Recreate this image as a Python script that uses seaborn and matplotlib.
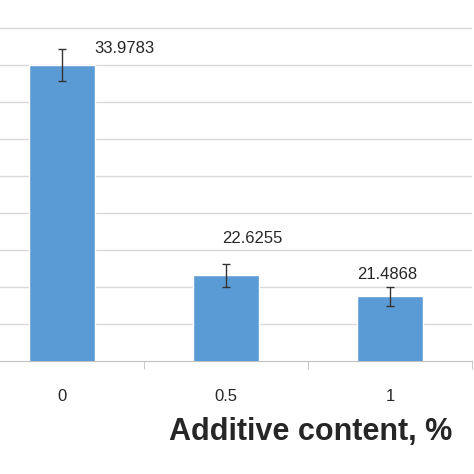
import matplotlib
matplotlib.use("Agg")
import matplotlib.pyplot as plt
import seaborn as sns
import pandas as pd

categories = ["0", "0.5", "1"]
values = [33.9783, 22.6255, 21.4868]
errors = [0.86, 0.62, 0.5]

sns.set_style("white")
plt.rcParams['font.family'] = ['Liberation Sans', 'DejaVu Sans']

df = pd.DataFrame({"content": categories, "value": values})

fig = plt.figure(figsize=(4.74, 4.74), dpi=100)
# axes deliberately spills past the left edge, like the cropped original
ax = fig.add_axes([-20 / 474, 113 / 474, 492 / 474, 361 / 474])

sns.barplot(data=df, x="content", y="value", color="#5B9BD5", width=0.4,
            saturation=1, ax=ax, zorder=3)
ax.errorbar(range(len(values)), values, yerr=errors, fmt="none",
            ecolor="#333333", elinewidth=1, capsize=3, zorder=4)

# label placement as in the original (Excel-style data labels)
label_dx = [0.38, 0.16, -0.02]
label_dy = [0.9, 2.0, 1.2]
for i, v in enumerate(values):
    ax.text(i + label_dx[i], v + label_dy[i], f"{v:.4f}", ha="center",
            va="center", fontsize=12)

ax.set_ylim(18, 37.5)
ax.set_yticks(range(20, 38, 2))
ax.set_yticklabels([])
ax.yaxis.grid(True, color="#d9d9d9", linewidth=1, zorder=0)
ax.tick_params(axis="y", length=0)
ax.set_xlim(-0.5, 2.5)
ax.set_xticks([0, 1, 2])
ax.set_xticklabels(categories, fontsize=12)
ax.set_xticks([0.5, 1.5, 2.5], minor=True)
ax.tick_params(axis="x", which="major", length=0, pad=20)
ax.tick_params(axis="x", which="minor", length=6, color="#bfbfbf", bottom=True)
for s in ["top", "right", "left"]:
    ax.spines[s].set_visible(False)
ax.spines["bottom"].set_color("#bfbfbf")
ax.set_ylabel("")
ax.set_xlabel("")
fig.text(452 / 474, 1 - 432 / 474, "Additive content, %", ha="right", va="center",
         fontsize=22, fontweight="bold")

fig.savefig("out.png", dpi=100)
